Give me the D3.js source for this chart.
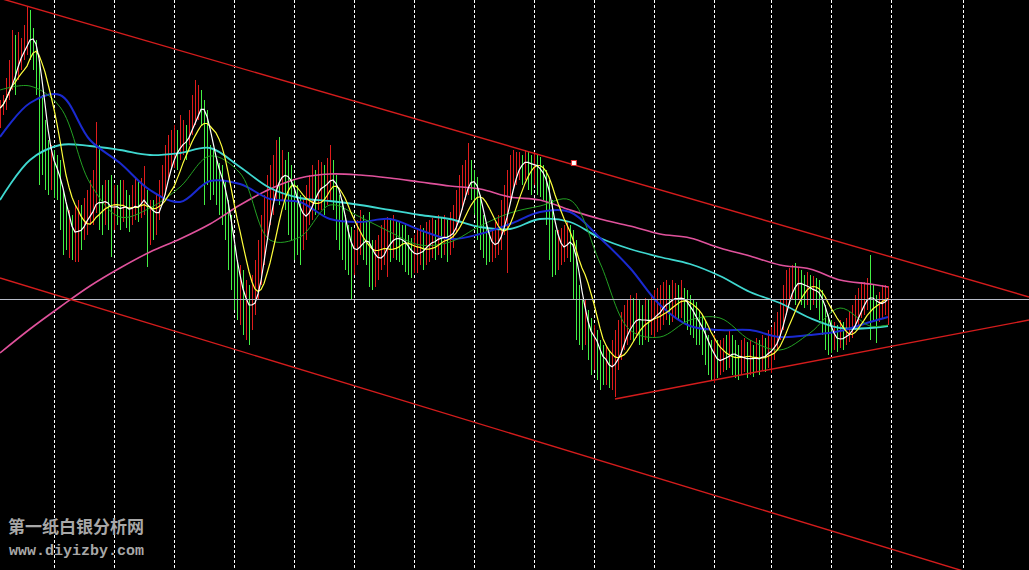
<!DOCTYPE html>
<html><head><meta charset="utf-8">
<script src="https://cdn.jsdelivr.net/npm/d3@7"></script>
<style>html,body{margin:0;padding:0;background:#000;overflow:hidden}</style>
</head><body><svg id="c" width="1029" height="570"></svg>
<script>
// ---- data (price in cents, one bar per period) ----
const closes = [1892,1898,1912,1928,1940,1934,1950,1955,1960,1970,
1965,1955,1930,1890,1860,1845,1830,1835,1828,1822,
1800,1775,1765,1768,1760,1772,1778,1770,1785,1790,
1795,1802,1805,1795,1790,1800,1795,1785,1795,1792,
1790,1800,1788,1785,1795,1800,1797,1802,1805,1775,
1785,1780,1792,1805,1815,1835,1845,1850,1852,1850,
1860,1865,1862,1875,1885,1895,1900,1898,1875,1850,
1835,1830,1828,1815,1805,1785,1760,1740,1720,1700,
1705,1690,1695,1685,1700,1715,1735,1760,1780,1800,
1810,1820,1830,1825,1828,1820,1815,1810,1790,1780,
1772,1782,1795,1805,1810,1808,1815,1818,1815,1822,
1825,1820,1800,1785,1765,1755,1745,1742,1750,1760,
1768,1762,1755,1745,1730,1738,1745,1752,1758,1762,
1760,1764,1762,1760,1755,1750,1745,1740,1745,1750,
1755,1752,1757,1760,1762,1760,1764,1762,1765,1762,
1768,1775,1790,1805,1815,1822,1825,1820,1810,1795,
1775,1760,1752,1750,1755,1760,1768,1780,1795,1810,
1825,1835,1838,1840,1835,1840,1835,1832,1835,1830,
1825,1815,1800,1780,1755,1745,1750,1755,1760,1765,
1760,1735,1700,1680,1670,1680,1665,1650,1655,1645,
1638,1630,1635,1628,1635,1650,1655,1665,1670,1678,
1682,1680,1685,1678,1675,1682,1678,1685,1688,1690,
1695,1700,1702,1698,1702,1705,1700,1704,1695,1688,
1682,1678,1675,1670,1662,1650,1642,1638,1642,1635,
1640,1648,1645,1650,1645,1642,1638,1642,1645,1640,
1642,1638,1644,1642,1648,1645,1652,1655,1660,1670,
1682,1700,1712,1717,1718,1715,1720,1713,1710,1712,
1708,1710,1707,1700,1685,1670,1660,1658,1662,1660,
1665,1662,1667,1672,1680,1688,1695,1702,1705,1708,
1700,1695,1690,1695,1702,1708,1710];
const highs = [1900,1905,1922,1940,1970,1965,1968,1962,1975,1993,
1990,1972,1960,1940,1905,1880,1860,1855,1850,1845,
1840,1810,1795,1790,1785,1795,1800,1795,1802,1810,
1820,1830,1878,1855,1815,1820,1820,1825,1815,1815,
1820,1820,1810,1805,1815,1822,1818,1822,1834,1810,
1800,1800,1805,1820,1835,1855,1865,1870,1875,1870,
1885,1880,1875,1890,1905,1920,1915,1910,1900,1890,
1855,1850,1840,1837,1835,1820,1800,1785,1755,1740,
1735,1730,1720,1715,1725,1740,1760,1785,1805,1825,
1835,1845,1860,1863,1850,1840,1848,1835,1820,1815,
1805,1800,1815,1825,1835,1830,1840,1838,1835,1842,
1855,1840,1825,1805,1800,1785,1775,1773,1770,1780,
1790,1785,1780,1788,1760,1760,1765,1775,1780,1783,
1782,1785,1780,1778,1775,1775,1765,1762,1765,1770,
1775,1772,1778,1780,1782,1780,1785,1782,1785,1780,
1788,1795,1810,1825,1835,1840,1857,1840,1830,1823,
1805,1785,1775,1770,1772,1778,1785,1800,1815,1830,
1845,1850,1848,1848,1845,1850,1848,1845,1848,1845,
1843,1835,1830,1820,1800,1770,1770,1772,1775,1778,
1775,1770,1760,1715,1700,1700,1690,1682,1675,1670,
1660,1655,1655,1650,1660,1670,1680,1688,1695,1700,
1705,1702,1707,1700,1695,1702,1700,1705,1710,1712,
1715,1718,1720,1715,1720,1717,1715,1720,1712,1710,
1705,1700,1698,1690,1685,1680,1665,1660,1665,1660,
1660,1662,1665,1670,1665,1660,1655,1660,1662,1658,
1660,1655,1662,1660,1665,1662,1670,1673,1678,1688,
1700,1715,1730,1732,1735,1737,1732,1730,1725,1728,
1725,1724,1722,1720,1710,1695,1685,1680,1678,1675,
1680,1678,1682,1688,1695,1705,1712,1718,1718,1722,
1745,1715,1705,1708,1715,1715,1714];
const lows = [1872,1885,1890,1900,1910,1905,1920,1930,1940,1945,
1940,1930,1905,1815,1825,1810,1805,1810,1802,1800,
1770,1745,1750,1742,1740,1738,1738,1750,1760,1765,
1775,1775,1787,1770,1765,1775,1770,1743,1770,1775,
1770,1778,1772,1768,1775,1780,1778,1782,1785,1733,
1755,1760,1765,1780,1795,1805,1820,1830,1832,1830,
1840,1845,1840,1855,1865,1875,1880,1875,1795,1815,
1800,1805,1795,1785,1775,1760,1730,1710,1690,1680,
1675,1665,1660,1655,1670,1685,1700,1715,1735,1760,
1775,1785,1800,1795,1800,1790,1765,1760,1740,1745,
1735,1750,1760,1775,1780,1785,1790,1790,1785,1795,
1800,1790,1760,1750,1740,1730,1725,1700,1725,1735,
1745,1740,1735,1713,1710,1713,1720,1730,1735,1723,
1738,1742,1740,1738,1735,1728,1725,1722,1727,1727,
1735,1730,1735,1738,1742,1740,1745,1742,1745,1738,
1745,1752,1768,1780,1790,1800,1805,1800,1785,1760,
1750,1742,1735,1738,1738,1742,1745,1750,1765,1727,
1800,1810,1815,1820,1815,1820,1810,1805,1815,1805,
1803,1800,1775,1740,1723,1725,1730,1735,1738,1742,
1738,1700,1660,1655,1650,1655,1640,1625,1630,1620,
1610,1615,1615,1612,1610,1603,1630,1640,1650,1655,
1660,1658,1662,1655,1655,1660,1658,1665,1662,1668,
1670,1675,1680,1675,1678,1682,1680,1682,1678,1670,
1665,1662,1655,1655,1645,1635,1625,1620,1617,1622,
1625,1628,1630,1632,1625,1622,1620,1625,1628,1622,
1625,1623,1628,1625,1630,1628,1632,1627,1640,1650,
1660,1670,1685,1695,1700,1695,1700,1695,1692,1695,
1690,1695,1692,1680,1665,1650,1645,1647,1650,1648,
1652,1650,1655,1658,1662,1670,1675,1682,1685,1690,
1660,1678,1657,1678,1682,1685,1675];
const firstOpen = 1880;

const maSampleBars = [0,10,20,30,40,50,60,70,80,90,100,110,120,130,140,150,160,170,180,190,200,210,220,230,240,250,260,270,280,290,296];
const maGreen = [1910,1914,1893,1817,1783,1792,1813,1844,1827,1760,1763,1795,1783,1768,1755,1758,1774,1787,1794,1800,1737,1670,1663,1680,1682,1660,1650,1667,1692,1674,1675];
const maBlue  = [1863,1897,1905,1860,1837,1810,1798,1819,1816,1801,1798,1781,1778,1781,1770,1761,1766,1776,1788,1788,1762,1732,1695,1674,1670,1670,1663,1665,1669,1678,1683];
const maCyan  = [1800,1840,1855,1854,1850,1845,1847,1852,1833,1812,1802,1799,1795,1790,1785,1781,1773,1771,1781,1778,1762,1751,1743,1736,1724,1708,1697,1682,1672,1672,1674];
const maPink  = [1647,1671,1693,1714,1732,1748,1761,1776,1795,1811,1822,1826,1825,1822,1818,1814,1811,1803,1800,1790,1781,1774,1766,1762,1752,1744,1735,1731,1720,1716,1713];

// time separators (bar positions)
const gridBars = [18,38,58,78,98,118,138,158,178,198,218,238,257,277,297,321];
// drawn objects: [bar, price] end points
const channelUpper = [[0,2001.7],[343,1703]];
const channelLower = [[0,1722],[343,1409]];
const supportLine  = [[205,1601],[343,1680]];
const anchorPoint  = [191.3,1837];
const hLinePrice = 1701;
const watermark = ["第一纸白银分析网","www.diyizby.com"];

// ---- drawing ----
const W = 1029, H = 570;
const svg = d3.select("#c");
svg.append("rect").attr("width",W).attr("height",H).attr("fill","#000");
const x = d3.scaleLinear().domain([0,343]).range([0,W]);
const y = d3.scaleLinear().domain([1430,2000]).range([H,0]);

// grid
svg.append("g").selectAll("line").data(gridBars).join("line")
  .attr("x1",d=>Math.round(x(d))+0.5).attr("x2",d=>Math.round(x(d))+0.5)
  .attr("y1",0).attr("y2",H)
  .attr("stroke","#ffffff").attr("stroke-width",1).attr("stroke-dasharray","3,2");

// bars
const bars = closes.map((c,i)=>{
  const o = i ? closes[i-1] : firstOpen;
  return {i, o, c, h: Math.max(highs[i],o,c), l: Math.min(lows[i],o,c), up: c >= o};
});
const UP = "#e01c1c", DOWN = "#44f044";
const gb = svg.append("g");
gb.selectAll("line").data(bars).join("line")
  .attr("x1",d=>Math.round(x(d.i))+0.5).attr("x2",d=>Math.round(x(d.i))+0.5)
  .attr("y1",d=>y(d.h)).attr("y2",d=>y(d.l))
  .attr("stroke",d=>d.up?UP:DOWN).attr("stroke-width",1);

// short moving averages derived from closes
function sma(n){ return closes.map((_,i)=>{ const s=Math.max(0,i-n+1); return d3.mean(closes.slice(s,i+1)); }); }
const ma5 = sma(5), ma10 = sma(10);

const lineIdx = d3.line().x((d,i)=>x(i)).y(d=>y(d));
const lineS = d3.line().x(d=>x(d[0])).y(d=>y(d[1])).curve(d3.curveCatmullRom);
const zipS = arr => arr.map((v,k)=>[maSampleBars[k],v]);

svg.append("path").attr("d",lineS(zipS(maPink))).attr("fill","none").attr("stroke","#e0529c").attr("stroke-width",1.6);
svg.append("path").attr("d",lineS(zipS(maCyan))).attr("fill","none").attr("stroke","#3fd8d0").attr("stroke-width",1.8);
svg.append("path").attr("d",lineS(zipS(maBlue))).attr("fill","none").attr("stroke","#1a2ad0").attr("stroke-width",2);
svg.append("path").attr("d",lineS(zipS(maGreen))).attr("fill","none").attr("stroke","#23a023").attr("stroke-width",1);
svg.append("path").attr("d",lineIdx(ma10)).attr("fill","none").attr("stroke","#ffff3c").attr("stroke-width",1.2);
svg.append("path").attr("d",lineIdx(ma5)).attr("fill","none").attr("stroke","#ffffff").attr("stroke-width",1.2);

// horizontal price line
svg.append("line").attr("x1",0).attr("x2",W).attr("y1",Math.round(y(hLinePrice))+0.5).attr("y2",Math.round(y(hLinePrice))+0.5)
  .attr("stroke","#b8bcc8").attr("stroke-width",1);

// trend lines
[channelUpper, channelLower, supportLine].forEach(p=>{
  svg.append("line").attr("x1",x(p[0][0])).attr("y1",y(p[0][1])).attr("x2",x(p[1][0])).attr("y2",y(p[1][1]))
    .attr("stroke","#d41c1c").attr("stroke-width",1.4);
});
svg.append("rect").attr("x",x(anchorPoint[0])-2.5).attr("y",y(anchorPoint[1])-2.5).attr("width",5).attr("height",5)
  .attr("fill","#ffffff").attr("stroke","#e03030").attr("stroke-width",1);

// watermark
svg.append("text").attr("x",8).attr("y",533).text(watermark[0])
  .attr("font-family","'Noto Sans CJK SC'").attr("font-weight","bold").attr("font-size",17).attr("fill","#a8a8a8");
svg.append("text").attr("x",9).attr("y",555).text(watermark[1])
  .attr("font-family","'Liberation Mono','DejaVu Sans Mono',monospace").attr("font-weight","bold").attr("font-size",15).attr("fill","#a8a8a8");
</script></body></html>
